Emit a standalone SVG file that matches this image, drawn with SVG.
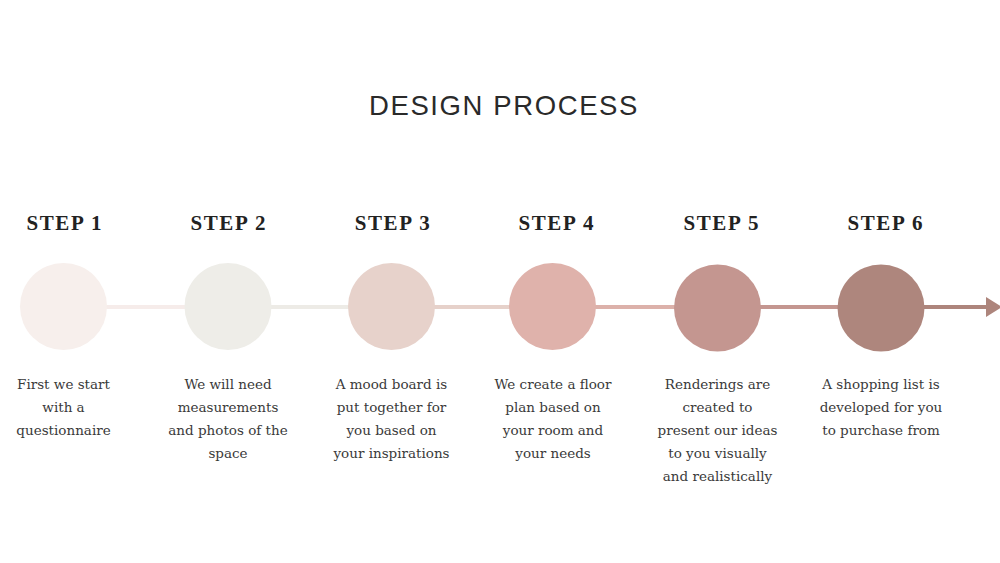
<svg xmlns="http://www.w3.org/2000/svg" width="1000" height="563" viewBox="0 0 1000 563">
<style>
.title{font-family:"Liberation Sans","Lato",sans-serif;font-size:27.5px;fill:#2a2a2a;letter-spacing:1.6px;text-anchor:middle}
.step{font-family:"Liberation Serif","DejaVu Serif",serif;font-weight:bold;font-size:21px;fill:#222;letter-spacing:1.6px;text-anchor:middle}
.body{font-family:"DejaVu Serif","Liberation Serif",serif;font-size:13.5px;fill:#3a3a3a;text-anchor:middle}
.seg{stroke-width:4;fill:none}
</style>
<defs>
<marker id="arr" markerWidth="4" markerHeight="5" refX="0" refY="2.5" orient="auto" markerUnits="strokeWidth">
<path d="M0,0 L4,2.5 L0,5 Z" fill="#ad857c"/>
</marker>
</defs>
<rect width="1000" height="563" fill="#ffffff"/>
<text class="title" x="504" y="115">DESIGN PROCESS</text>
<g id="connectors">
<line class="seg" x1="100" y1="307" x2="190" y2="307" stroke="#f6ecea"/>
<line class="seg" x1="265" y1="307" x2="355" y2="307" stroke="#edebe6"/>
<line class="seg" x1="428" y1="307" x2="515" y2="307" stroke="#e6d1ca"/>
<line class="seg" x1="590" y1="307" x2="680" y2="307" stroke="#dcb1aa"/>
<line class="seg" x1="755" y1="307" x2="845" y2="307" stroke="#c49690"/>
<line class="seg" x1="918" y1="307" x2="986" y2="307" stroke="#ad857c" marker-end="url(#arr)"/>
</g>
<g id="step1">
<circle cx="63.5" cy="306.5" r="43.5" fill="#f7efec"/>
<text class="step" x="64.8" y="230">STEP 1</text>
<text class="body" x="63.5" y="389">First we start</text>
<text class="body" x="63.5" y="412">with a</text>
<text class="body" x="63.5" y="435">questionnaire</text>
</g>
<g id="step2">
<circle cx="228" cy="306.5" r="43.5" fill="#eeede8"/>
<text class="step" x="228.8" y="230">STEP 2</text>
<text class="body" x="228" y="389">We will need</text>
<text class="body" x="228" y="412">measurements</text>
<text class="body" x="228" y="435">and photos of the</text>
<text class="body" x="228" y="458">space</text>
</g>
<g id="step3">
<circle cx="391.5" cy="306.5" r="43.5" fill="#e7d2cb"/>
<text class="step" x="393" y="230">STEP 3</text>
<text class="body" x="391.5" y="389">A mood board is</text>
<text class="body" x="391.5" y="412">put together for</text>
<text class="body" x="391.5" y="435">you based on</text>
<text class="body" x="391.5" y="458">your inspirations</text>
</g>
<g id="step4">
<circle cx="552.5" cy="306.5" r="43.5" fill="#dfb2ab"/>
<text class="step" x="556.8" y="230">STEP 4</text>
<text class="body" x="553" y="389">We create a floor</text>
<text class="body" x="553" y="412">plan based on</text>
<text class="body" x="553" y="435">your room and</text>
<text class="body" x="553" y="458">your needs</text>
</g>
<g id="step5">
<circle cx="717.5" cy="308" r="43.5" fill="#c49690"/>
<text class="step" x="721.8" y="230">STEP 5</text>
<text class="body" x="717.5" y="389">Renderings are</text>
<text class="body" x="717.5" y="412">created to</text>
<text class="body" x="717.5" y="435">present our ideas</text>
<text class="body" x="717.5" y="458">to you visually</text>
<text class="body" x="717.5" y="481">and realistically</text>
</g>
<g id="step6">
<circle cx="881" cy="308" r="43.5" fill="#ae867d"/>
<text class="step" x="885.8" y="230">STEP 6</text>
<text class="body" x="881" y="389">A shopping list is</text>
<text class="body" x="881" y="412">developed for you</text>
<text class="body" x="881" y="435">to purchase from</text>
</g>
</svg>
